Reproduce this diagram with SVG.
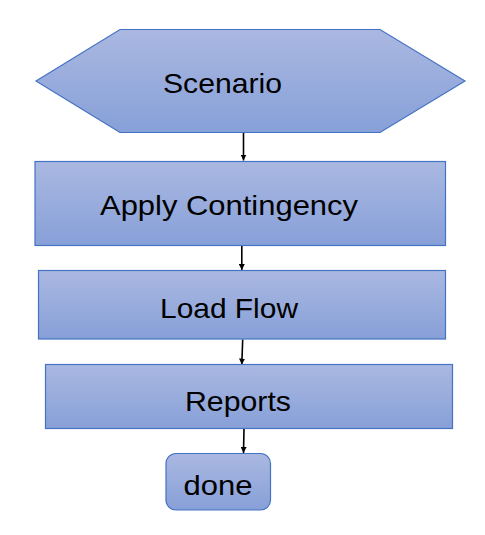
<svg xmlns="http://www.w3.org/2000/svg" width="485" height="535" viewBox="0 0 485 535">
<defs>
<linearGradient id="g" x1="0" y1="0" x2="0" y2="1">
<stop offset="0" stop-color="#aab8e1"/>
<stop offset="1" stop-color="#87a0d8"/>
</linearGradient>
<marker id="ah" markerWidth="6" markerHeight="6" refX="6" refY="3" orient="auto" markerUnits="userSpaceOnUse">
<path d="M0,0 L6,3 L0,6 Z" fill="#000"/>
</marker>
<style>
.n{fill:url(#g);stroke:#4472c4;stroke-width:1.2}
.t{font-family:"Liberation Sans",Arial,sans-serif;font-size:28px;fill:#000}
.c{stroke:#000;stroke-width:1.6;fill:none;marker-end:url(#ah)}
</style>
</defs>
<rect width="485" height="535" fill="#fff"/>
<g id="connectors">
<path class="c" d="M243.5,132.5 L243.5,160.5"/>
<path class="c" d="M241.8,245.5 L241.8,270"/>
<path class="c" d="M242.7,339.5 L241.8,364.5"/>
<path class="c" d="M244,428.5 L243.5,453"/>
</g>
<g id="scenario">
<polygon class="n" points="36,81 120,29.5 380,29.5 465,81 380,132.5 120,132.5"/>
<text class="t" x="163" y="92.5" textLength="119" lengthAdjust="spacingAndGlyphs">Scenario</text>
</g>
<g id="apply-contingency">
<rect class="n" x="35" y="161.5" width="410.5" height="84"/>
<text class="t" x="100" y="214.5" textLength="258" lengthAdjust="spacingAndGlyphs">Apply Contingency</text>
</g>
<g id="load-flow">
<rect class="n" x="38.5" y="270.5" width="407" height="68.5"/>
<text class="t" x="160" y="317.5" textLength="138" lengthAdjust="spacingAndGlyphs">Load Flow</text>
</g>
<g id="reports">
<rect class="n" x="45.5" y="364.5" width="407" height="64"/>
<text class="t" x="185" y="410.5" textLength="106" lengthAdjust="spacingAndGlyphs">Reports</text>
</g>
<g id="done">
<rect class="n" x="166" y="453.5" width="104.5" height="56.5" rx="10" ry="10"/>
<text class="t" x="183.5" y="495" textLength="69" lengthAdjust="spacingAndGlyphs">done</text>
</g>
</svg>
